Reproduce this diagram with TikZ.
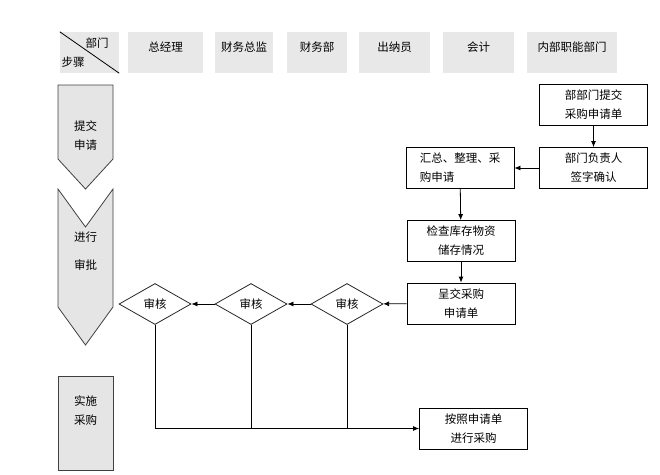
\documentclass[tikz,border=0pt]{standalone}
\usepackage{fontspec}
\setmainfont{Noto Sans CJK SC}
\usepackage{xcolor}
\usetikzlibrary{
    arrows.meta,
    positioning,
    shapes.geometric
}

\begin{document}
\begin{tikzpicture}[
    x=1pt, y=-1pt,
    font=\fontsize{11.5}{19}\selectfont,
    head/.style={
        rectangle,
        fill=black!9,
        minimum height=41pt,
        text height=8pt,
        text depth=10pt,
        inner sep=0pt
    },
    box/.style={
        rectangle,
        draw=black,
        line width=0.8pt,
        align=center,
        minimum width=108pt,
        minimum height=41pt,
        inner sep=2pt,
        fill=white
    },
    check/.style={
        diamond,
        draw=black!85,
        line width=0.8pt,
        minimum width=72pt,
        minimum height=41pt,
        inner sep=0pt,
        fill=white
    },
    stage/.style={
        draw=black!75,
        line width=0.8pt,
        fill=black!10
    },
    arrow/.style={
        -{Latex[length=6pt,width=5pt]},
        line width=0.8pt,
        draw=black
    },
    line/.style={
        line width=0.8pt,
        draw=black
    }
]
\useasboundingbox (0,0) rectangle (660,474);

% =========================================================
% Header row
% =========================================================
\node[head, minimum width=59pt] (corner) at (89.5,52.5) {};
\draw[line width=0.8pt] (corner.north west) -- (corner.south east);
\node (dept) at (97,43) {部门};
\node (step) at (73,62) {步骤};

\node[head, minimum width=75pt] (gm) at (165.5,52.5) {总经理};
\node[head, minimum width=58pt] (cfo) at (244,52.5) {财务总监};
\node[head, minimum width=60pt] (fin) at (317,52.5) {财务部};
\node[head, minimum width=71pt] (cashier) at (394.5,52.5) {出纳员};
\node[head, minimum width=71pt] (acct) at (478.5,52.5) {会计};
\node[head, minimum width=90pt] (inner) at (572,52.5) {内部职能部门};

% =========================================================
% Stage column
% =========================================================
\draw[stage] (58,85) -- (113,85) -- (113,159) -- (85.5,189) -- (58,159) -- cycle;
\node (submit) at (85.5,136) {\begin{tabular}{@{}c@{}}提交\\申请\end{tabular}};

\draw[stage] (58,189) -- (85.5,227) -- (113,189) -- (113,307) -- (85.5,345) -- (58,307) -- cycle;
\node (approveA) at (85.5,237) {进行};
\node (approveB) at (85.5,265) {审批};

\draw[stage] (58,376) rectangle (113,470);
\node (buy) at (85.5,411) {\begin{tabular}{@{}c@{}}实施\\采购\end{tabular}};

% =========================================================
% Flow boxes
% =========================================================
\node[box] (request) at (593.5,105) {部部门提交\\采购申请单};
\node[box] (sign) at (593.5,168) {部门负责人\\签字确认};
\node[box, align=left] (collect) at (460,168) {汇总、整理、采\\购申请};
\node[box] (stock) at (461,241) {检查库存物资\\储存情况};
\node[box] (hand) at (461,303.5) {呈交采购\\申请单};

\node[check] (checkC) at (347,304) {审核};
\node[check] (checkB) at (251,304) {审核};
\node[check] (checkA) at (155,304) {审核};

\node[box] (purchase) at (473.5,428.5) {按照申请单\\进行采购};

% =========================================================
% Arrows
% =========================================================
\draw[arrow] (request) -- (sign);
\draw[arrow] (sign) -- (collect);
\draw[arrow] (collect) -- (stock);
\draw[arrow] (stock) -- (hand);
\draw[arrow] (hand) -- (checkC);
\draw[arrow] (checkC) -- (checkB);
\draw[arrow] (checkB) -- (checkA);

\draw[arrow] (checkA.south) |- (purchase.west);
\draw[line] (checkB.south) -- (checkB.south |- purchase.west);
\draw[line] (checkC.south) -- (checkC.south |- purchase.west);

\end{tikzpicture}
\end{document}
